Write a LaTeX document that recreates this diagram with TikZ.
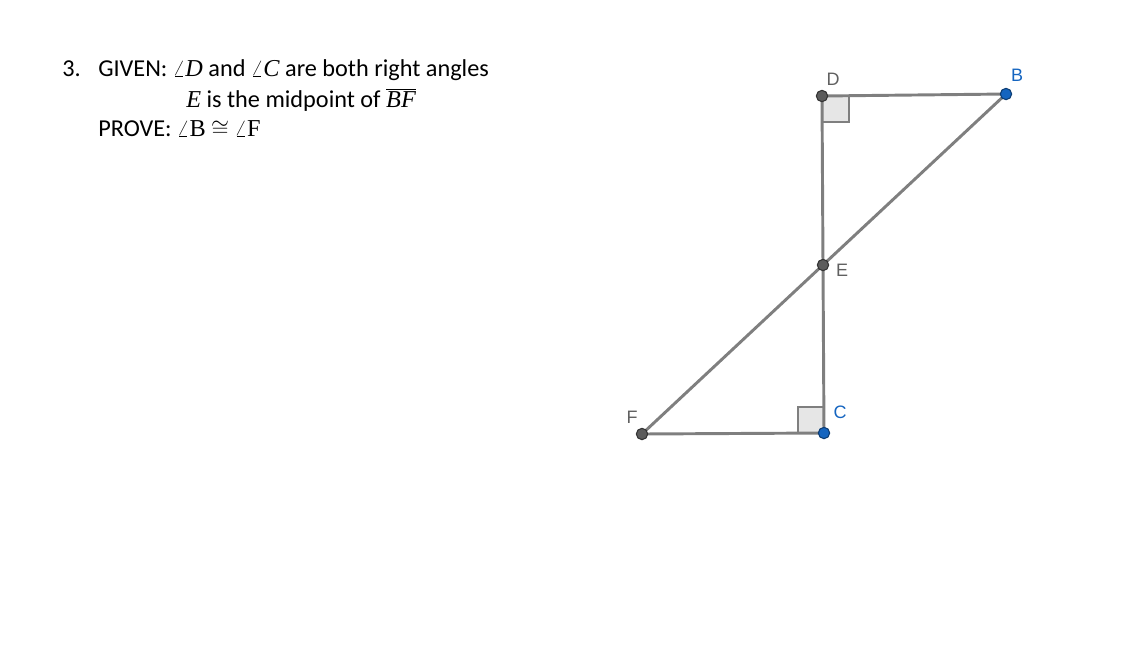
\documentclass[tikz,border=0pt]{standalone}
\usepackage{fontspec}
\setmainfont{Carlito}
\newfontfamily\lblfont{Liberation Sans}
\newfontfamily\mathser{Liberation Serif}
\newcommand{\vr}[1]{{\mathser\itshape #1}}
\newcommand{\vu}[1]{{\mathser #1}}
\definecolor{segcol}{HTML}{7F7F7F}
\definecolor{ptgray}{HTML}{5C5C5C}
\definecolor{ptblue}{HTML}{1565C0}
\definecolor{lblgray}{HTML}{606060}
\definecolor{sqfill}{HTML}{E6E6E6}
\tikzset{
  seg/.style={draw=segcol, line width=2.2pt},
  rtbox/.style={fill=sqfill, draw=segcol, line width=1.6pt},
  gpt/.style={circle, inner sep=0pt, minimum size=8.5pt, fill=ptgray, draw=black!80, line width=0.8pt},
  bpt/.style={circle, inner sep=0pt, minimum size=8.5pt, fill=ptblue, draw=ptblue!60!black, line width=0.8pt},
  txt/.style={anchor=base west, inner sep=0pt, font=\fontsize{18.2}{20}\selectfont},
  lbl/.style={font=\lblfont\fontsize{13.5}{15}\selectfont, inner sep=0pt}
}
\begin{document}
\begin{tikzpicture}[x=0.75pt, y=-0.75pt]
\useasboundingbox (0,0) rectangle (1147,669);

% given / prove
\node[txt] (num) at (62,76) {3.};
\node[txt] (given) at (98,76) {GIVEN: $\angle$\vr{D} and $\angle$\vr{C} are both right angles};
\node[txt] (mid) at (186,107) {\vr{E} is the midpoint of $\overline{\hbox{\vr{BF}}}$};
\node[txt] (prove) at (98,136) {PROVE: $\angle$\vu{B} $\cong$ $\angle$\vu{F}};

% points
\coordinate (D) at (822,96);
\coordinate (B) at (1006,94);
\coordinate (E) at (823,265);
\coordinate (C) at (824,433);
\coordinate (F) at (642,434);

% right angle marks
\draw[rtbox] (D) rectangle ++(27,26);
\draw[rtbox] (C) rectangle ++(-26,-26);

% segments
\draw[seg] (D)--(B);
\draw[seg] (F)--(C);
\draw[seg] (D)--(C);
\draw[seg] (F)--(B);

\node[gpt] (pD) at (D) {};
\node[bpt] (pB) at (B) {};
\node[gpt] (pE) at (E) {};
\node[bpt] (pC) at (C) {};
\node[gpt] (pF) at (F) {};

\node[lbl, text=lblgray] (lD) at (833,79) {D};
\node[lbl, text=ptblue] (lB) at (1017,75) {B};
\node[lbl, text=lblgray] (lE) at (842,270) {E};
\node[lbl, text=ptblue] (lC) at (840,412) {C};
\node[lbl, text=lblgray] (lF) at (632,417) {F};

\end{tikzpicture}
\end{document}
